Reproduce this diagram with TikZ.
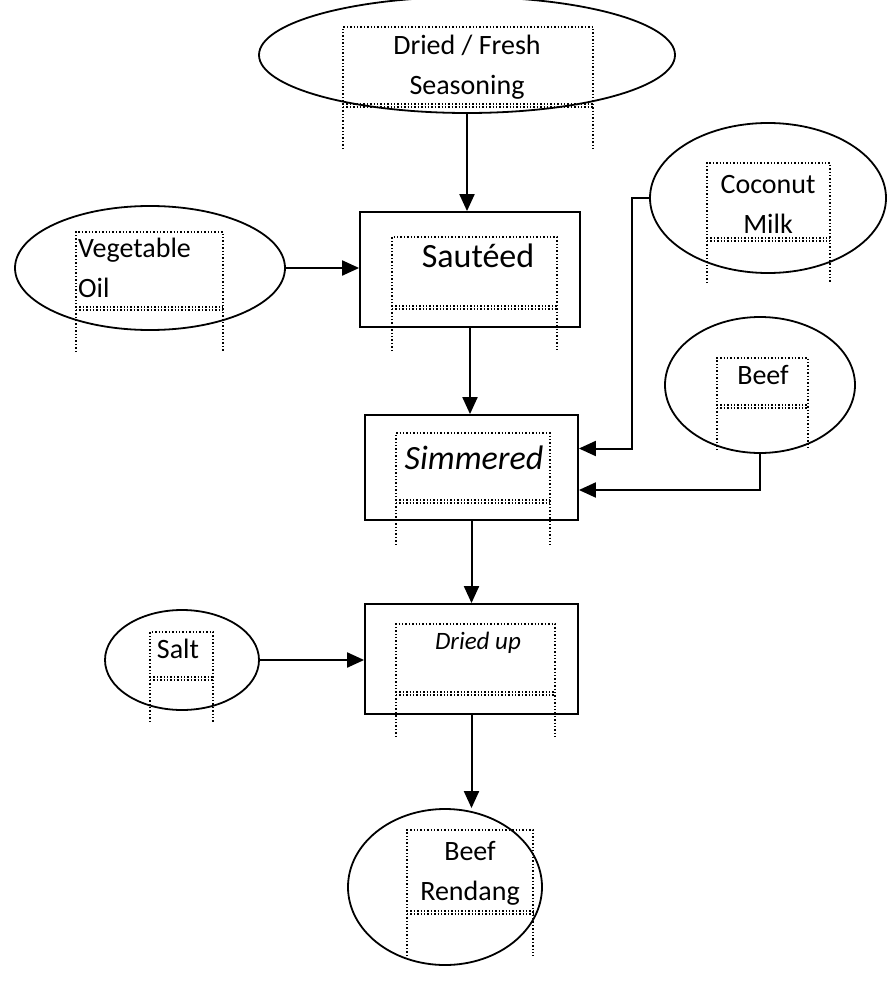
\documentclass[tikz,border=0pt]{standalone}
\usepackage{fontspec}
\setmainfont{Carlito}
\usetikzlibrary{shapes.geometric,arrows.meta}
\begin{document}
\begin{tikzpicture}[x=1pt,y=-1pt,
  ell/.style={draw,line width=1.8pt,ellipse,inner sep=0pt},
  box/.style={draw,line width=1.8pt,rectangle,inner sep=0pt},
  arr/.style={line width=2pt,-{Triangle[length=17pt,width=15pt]}},
  txt/.style={font=\fontsize{28}{40}\selectfont,align=center,inner sep=0pt}]
\useasboundingbox (0,0) rectangle (888,998);
\newcommand{\tbox}[4]{% x1 x2 ytop yline
  \draw[dotted,line width=1.4pt] (#1,#4+45) -- (#1,#3) -- (#2,#3) -- (#2,#4+45);
  \draw[dotted,line width=1.4pt] (#1,#4) -- (#2,#4);
  \draw[dotted,line width=1.4pt] (#1,#4+3) -- (#2,#4+3);}
% shapes
\node[ell,minimum width=416,minimum height=116] (top) at (467,55) {};
\node[box,minimum width=220,minimum height=115] (saut) at (470,269.5) {};
\node[ell,minimum width=270,minimum height=124] (oil) at (150,268) {};
\node[ell,minimum width=236,minimum height=150] (milk) at (768,198) {};
\node[ell,minimum width=190,minimum height=136] (beef) at (760,385) {};
\node[box,minimum width=213,minimum height=105] (simm) at (471.5,467.5) {};
\node[box,minimum width=213,minimum height=110] (dry) at (471.5,659) {};
\node[ell,minimum width=154,minimum height=100] (salt) at (182,660) {};
\node[ell,minimum width=194,minimum height=156] (rend) at (445,887) {};
% text frames
\tbox{343}{593}{27}{104}
\tbox{392}{557}{237}{306}
\tbox{76}{223}{232}{307}
\tbox{707}{830}{163}{238}
\tbox{717}{808}{358}{405}
\tbox{396}{550}{433}{500}
\tbox{396}{555}{624}{692}
\tbox{150}{213}{632}{677}
\tbox{407}{533}{830}{911}
% texts
\node[txt] (ttop) at (467,67) {Dried / Fresh\\Seasoning};
\node[txt,font=\fontsize{34}{34}\selectfont] (tsaut) at (478,256) {Sautéed};
\node[txt,align=left,anchor=west] (toil) at (78,268) {Vegetable\\Oil};
\node[txt] (tmilk) at (768,204) {Coconut\\Milk};
\node[txt] (tbeef) at (763,375) {Beef};
\node[txt,font=\fontsize{34}{34}\itshape\selectfont] (tsimm) at (474,458) {Simmered};
\node[txt,font=\fontsize{25}{30}\itshape\selectfont] (tdry) at (478,643) {Dried up};
\node[txt] (tsalt) at (178,649) {Salt};
\node[txt] (trend) at (470,873) {Beef\\Rendang};
% connectors
\coordinate (m1) at (632,198);
\draw[arr] (top.south) -- (top.south |- saut.north);
\draw[arr] (oil.east) -- (saut.west |- oil.east);
\draw[arr] (saut.south) -- (simm.north -| saut.south);
\draw[arr] (milk.west) -- (m1) |- ([yshift=19]simm.east);
\draw[arr] (beef.south) |- ([yshift=-22.5]simm.east);
\draw[arr] (simm.south) -- (dry.north -| simm.south);
\draw[arr] (salt.east) -- (dry.west |- salt.east);
\draw[arr] (dry.south) -- (dry.south |- rend.north);
\end{tikzpicture}
\end{document}
